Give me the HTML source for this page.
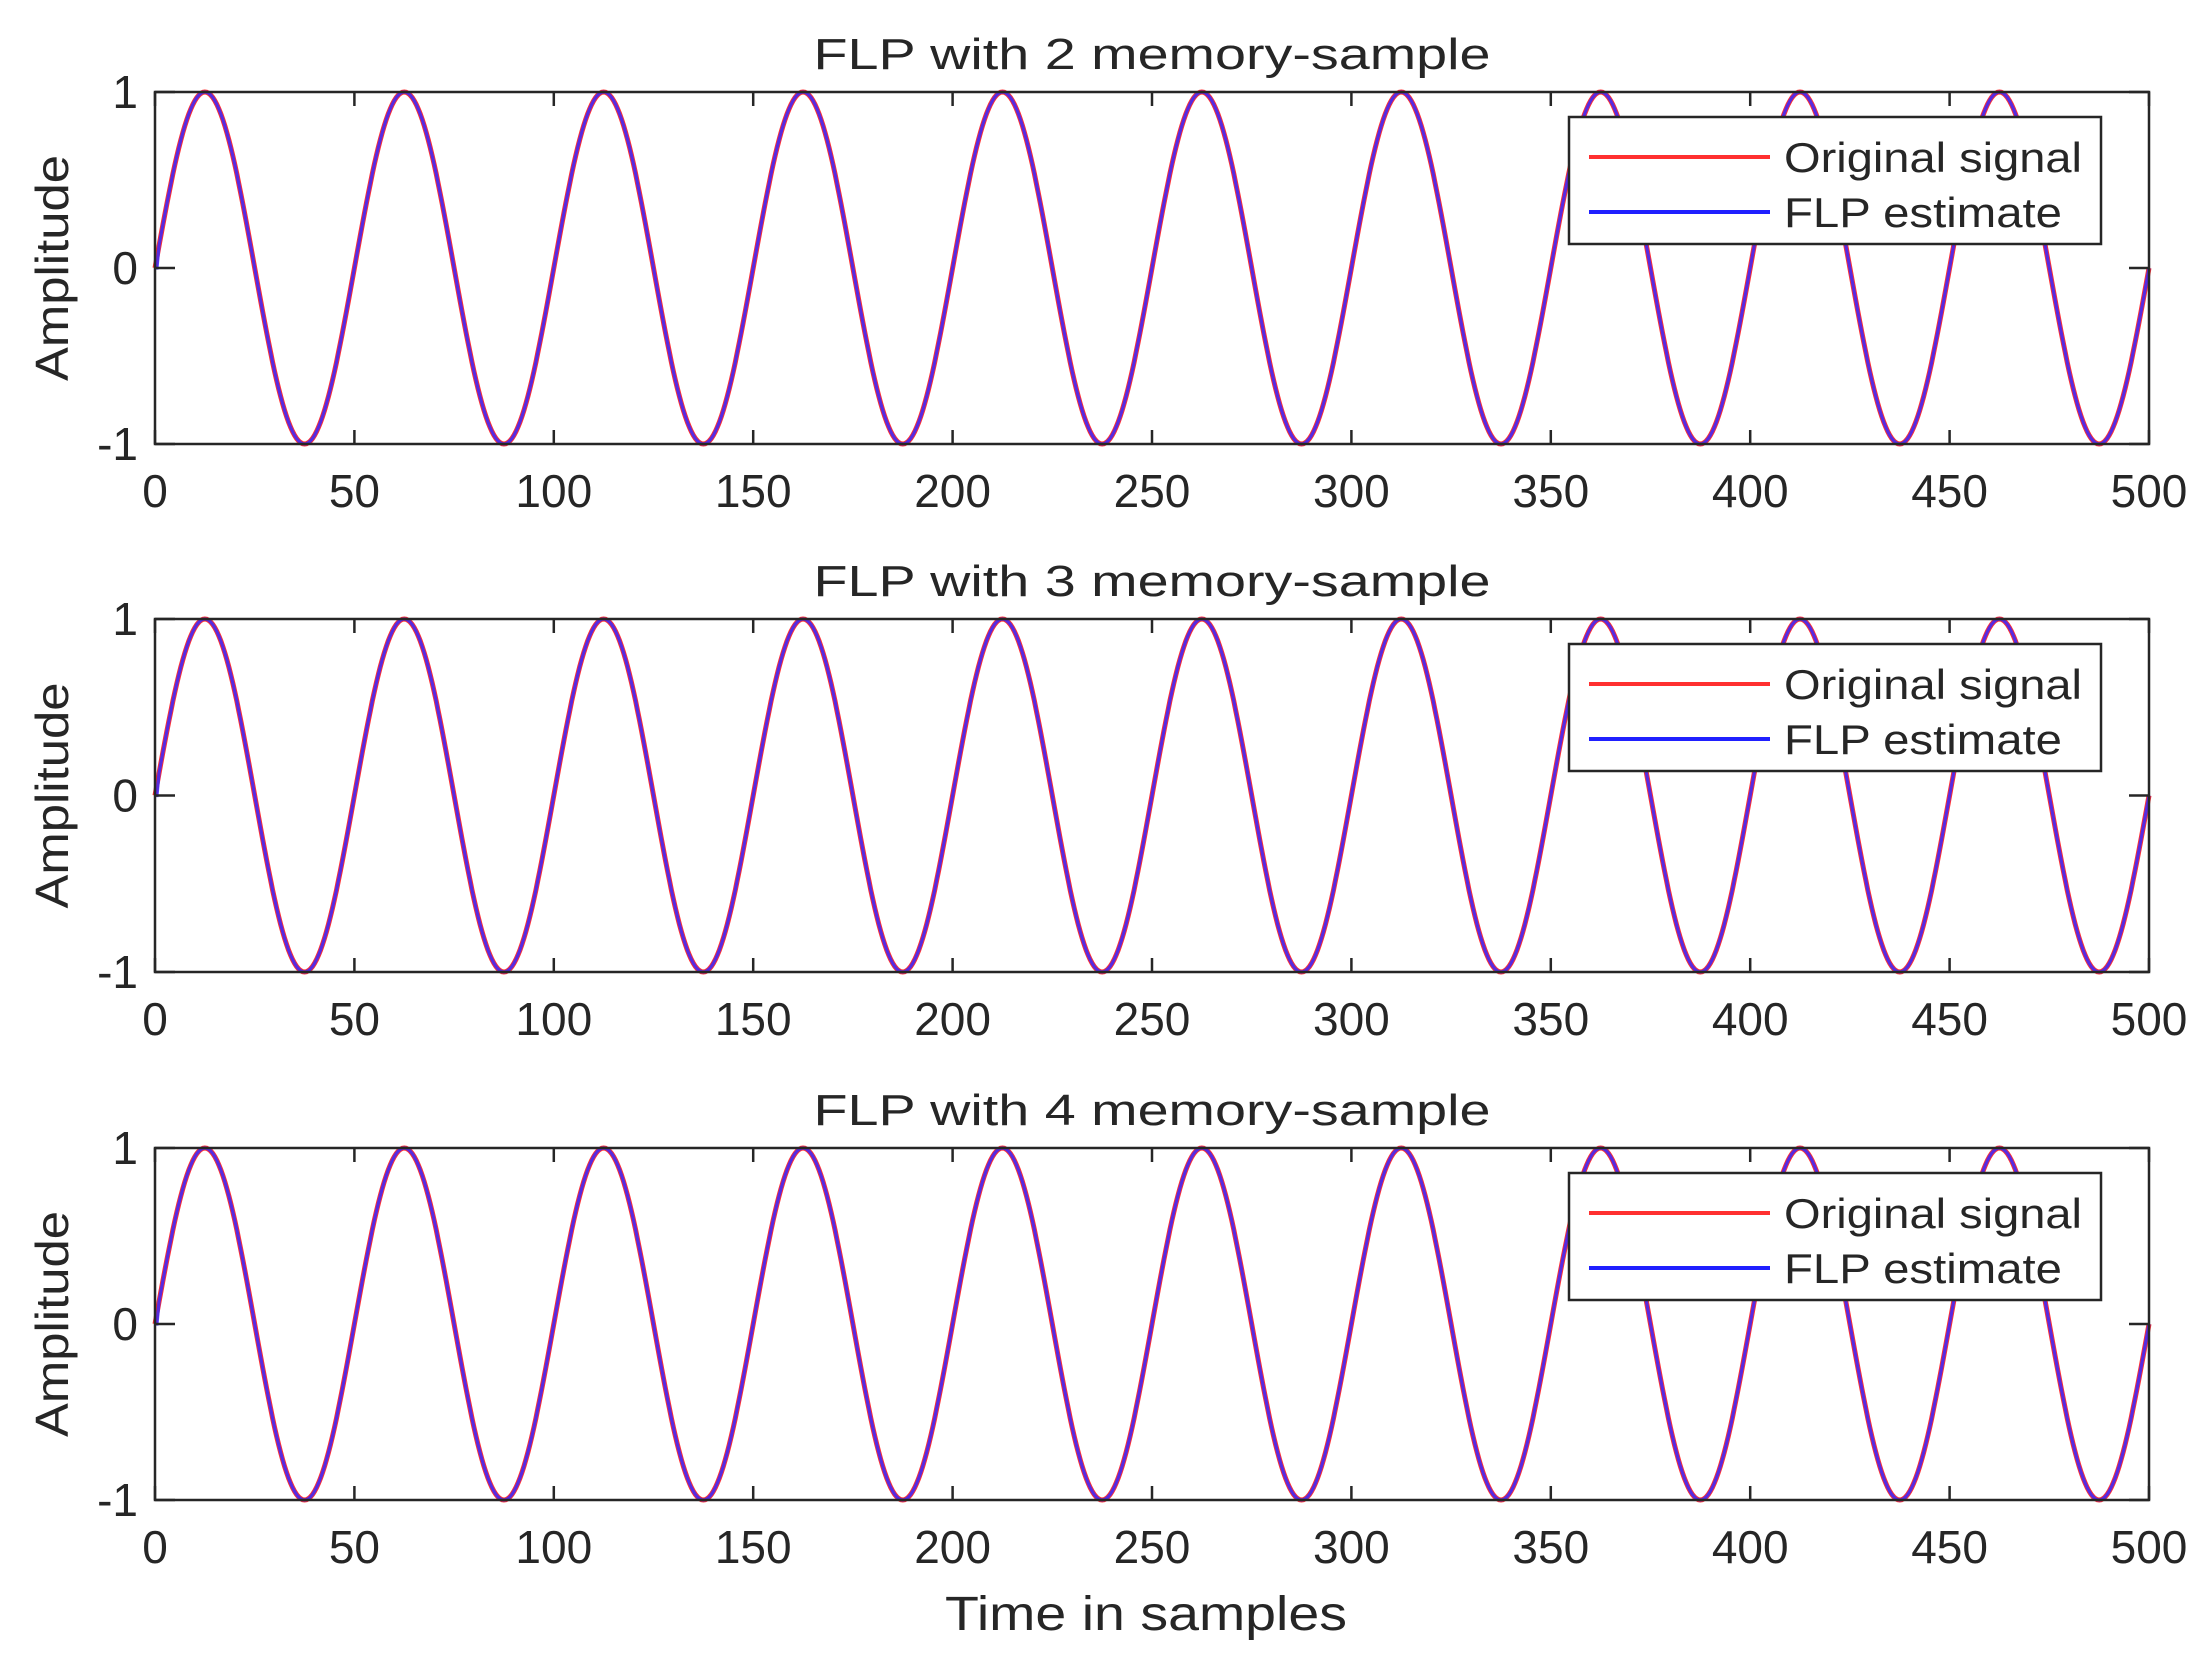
<!DOCTYPE html>
<html><head><meta charset="utf-8"><style>
html,body{margin:0;padding:0;background:#fff;}
svg{display:block;}
text{font-family:"Liberation Sans",Arial,sans-serif;fill:#262626;}
</style></head><body>
<svg id="s" width="2211" height="1670" viewBox="0 0 2211 1670" xmlns="http://www.w3.org/2000/svg"></svg>
<script>
const s=document.getElementById('s');
let h='';
const L=155,R=2149;
const plots=[{t:92,b:444,n:2},{t:619,b:972,n:3},{t:1148,b:1500,n:4}];
plots.forEach(p=>{
  const mid=(p.t+p.b)/2, amp=(p.b-p.t)/2;
  const X=v=>L+(R-L)*v/500, Y=v=>mid-amp*v;
  // title
  h+=`<text x="${(L+R)/2}" y="${p.t-23}" font-size="44" text-anchor="middle" textLength="677" lengthAdjust="spacingAndGlyphs">FLP with ${p.n} memory-sample</text>`;
  // signals
  let d1='',d2='';
  for(let i=0;i<=1000;i++){const n=i/2;const y=Math.sin(2*Math.PI*n/50);
    d1+=(i?'L':'M')+X(n).toFixed(1)+' '+Y(y).toFixed(1);
    let y2=n<1?0:y; d2+=(i?'L':'M')+X(n).toFixed(1)+' '+Y(y2).toFixed(1);}
  h+=`<path d="${d1}" fill="none" stroke="#ff3030" stroke-width="5"/>`;
  h+=`<path d="${d2}" fill="none" stroke="#3a2aff" stroke-width="3.2" opacity="0.85"/>`;
  // axes box
  h+=`<rect x="${L}" y="${p.t}" width="${R-L}" height="${p.b-p.t}" fill="none" stroke="#262626" stroke-width="2.5"/>`;
  // x ticks
  for(let v=0;v<=500;v+=50){const x=X(v);
    h+=`<line x1="${x}" y1="${p.b}" x2="${x}" y2="${p.b-14}" stroke="#262626" stroke-width="2.5"/>`;
    h+=`<line x1="${x}" y1="${p.t}" x2="${x}" y2="${p.t+14}" stroke="#262626" stroke-width="2.5"/>`;
    h+=`<text x="${x}" y="${p.b+63}" font-size="46" text-anchor="middle">${v}</text>`;}
  [[1,'1'],[0,'0'],[-1,'-1']].forEach(([v,l])=>{const y=Y(v);
    h+=`<line x1="${L}" y1="${y}" x2="${L+20}" y2="${y}" stroke="#262626" stroke-width="2.5"/>`;
    h+=`<line x1="${R}" y1="${y}" x2="${R-20}" y2="${y}" stroke="#262626" stroke-width="2.5"/>`;
    h+=`<text x="138" y="${y+16}" font-size="46" text-anchor="end">${l}</text>`;});
  h+=`<text transform="translate(68 ${mid}) rotate(-90)" font-size="46" text-anchor="middle" textLength="226" lengthAdjust="spacingAndGlyphs">Amplitude</text>`;
  // legend
  const lt=p.t+25;
  h+=`<rect x="1569" y="${lt}" width="532" height="127" fill="#fff" stroke="#262626" stroke-width="2.5"/>`;
  h+=`<line x1="1589" y1="${lt+40}" x2="1770" y2="${lt+40}" stroke="#ff3030" stroke-width="4"/>`;
  h+=`<line x1="1589" y1="${lt+95}" x2="1770" y2="${lt+95}" stroke="#2020ff" stroke-width="4"/>`;
  h+=`<text x="1784" y="${lt+55}" font-size="42" textLength="298" lengthAdjust="spacingAndGlyphs">Original signal</text>`;
  h+=`<text x="1784" y="${lt+110}" font-size="42" textLength="278" lengthAdjust="spacingAndGlyphs">FLP estimate</text>`;
});
h+=`<text x="1146" y="1630" font-size="48" text-anchor="middle" textLength="402" lengthAdjust="spacingAndGlyphs">Time in samples</text>`;
s.innerHTML=h;
</script>
</body></html>
